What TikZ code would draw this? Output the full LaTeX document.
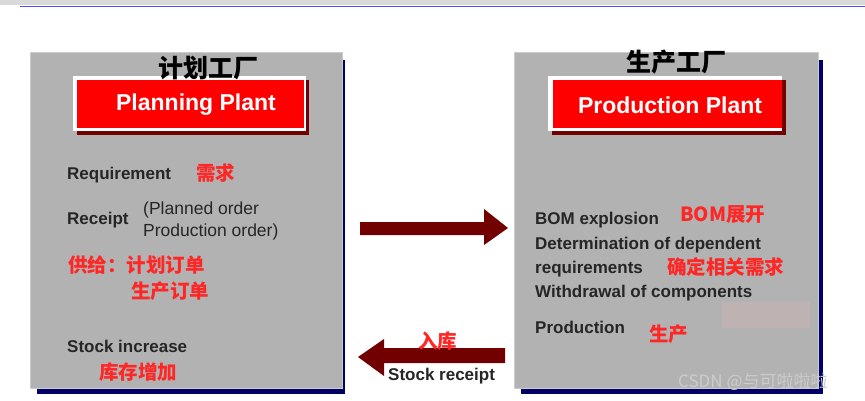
\documentclass[tikz,border=0pt]{standalone}
\usepackage{fontspec}
\setmainfont{Liberation Sans}
\newfontfamily\cjk{Noto Sans CJK SC}
\begin{document}
\begin{tikzpicture}[x=1pt,y=-1pt,
  panel/.style={fill=black!30,draw=black!20},
  btn/.style={fill=red,draw=none},
  blk/.style={anchor=west,font=\bfseries\fontsize{17}{18}\selectfont,text=black!85,inner sep=0},
  nrm/.style={anchor=west,font=\fontsize{17.5}{18}\selectfont,text=black!85,inner sep=0},
  rtx/.style={anchor=west,font=\cjk\bfseries\fontsize{19.5}{20}\selectfont,text=red!85!white,inner sep=0},
  ttl/.style={font=\cjk\bfseries\fontsize{25}{26}\selectfont,inner sep=0},
  btxt/.style={font=\bfseries\fontsize{23}{24}\selectfont,text=white,inner sep=0},
  arr/.style={fill=red!45!black,draw=none}]
\useasboundingbox (0,0) rectangle (865,401);
\fill[white] (0,0) rectangle (865,401);
\fill[black!15] (0,0) rectangle (865,5);
\draw[blue!70,line width=1pt] (20,6.5) -- (865,6.5);
% left panel
\fill[blue!40!black] (37,389) rectangle (345,394);
\fill[blue!40!black] (341,60) rectangle (345,394);
\node[panel,minimum width=312,minimum height=336,anchor=north west] (lp) at (30,52) {};
\fill[red!45!black] (77,80) rectangle (309,135);
\fill[white] (73,76) rectangle (306,131);
\node[btn,minimum width=227,minimum height=48,anchor=north west] (lb) at (77,80) {};
\node[btxt] (lbt) at (196,105) {Planning Plant};
\node[ttl] (lt) at (208,68) {计划工厂};
\node[blk] (l1) at (67,175) {Requirement};
\node[rtx] (l1c) at (196,173) {需求};
\node[blk] (l2) at (67,220) {Receipt};
\node[nrm] (l2b) at (143,210) {(Planned order};
\node[nrm] (l2c) at (143,232) {Production order)};
\node[rtx] (l3) at (68,265) {供给：计划订单};
\node[rtx] (l4) at (131,291) {生产订单};
\node[blk] (l5) at (67,346) {Stock increase};
\node[rtx] (l6) at (99,372) {库存增加};
% right panel
\fill[blue!40!black] (521,389) rectangle (823,394);
\fill[blue!40!black] (819,60) rectangle (823,394);
\node[panel,minimum width=304,minimum height=336,anchor=north west] (rp) at (514,52) {};
\fill[red!45!black] (552,80) rectangle (786,135);
\fill[white] (548,76) rectangle (782,131);
\node[btn,minimum width=229,minimum height=48,anchor=north west] (rb) at (553,80) {};
\node[btxt] (rbt) at (670,105) {Production Plant};
\node[ttl] (rt) at (676,62) {生产工厂};
\node[blk] (r1) at (535,220) {BOM explosion};
\node[rtx] (r1c) at (680,215) {BOM展开};
\node[blk] (r2) at (535,245) {Determination of dependent};
\node[blk] (r3) at (535,269) {requirements};
\node[rtx] (r3c) at (667,267) {确定相关需求};
\node[blk] (r4) at (535,293) {Withdrawal of components};
\node[blk] (r5) at (535,327) {Production};
\node[rtx] (r5c) at (649,334) {生产};
\fill[red!30!black!30!white,opacity=0.6] (722,302) rectangle (810,328);
% arrows
\fill[arr] (360,222) -- (484,222) -- (484,209) -- (508,228) -- (484,245) -- (484,235) -- (360,235) -- cycle;
\fill[arr] (505,348) -- (384,348) -- (384,339) -- (358,357) -- (384,376) -- (384,363) -- (505,363) -- cycle;
\node[rtx] (in) at (418,341) {入库};
\node[blk] (sr) at (388,376) {Stock receipt};
\node[anchor=west,inner sep=0,font=\cjk\fontsize{17}{18}\selectfont,text=white!80!black] (wm) at (678,382) {CSDN @与可啦啦啦};
\end{tikzpicture}
\end{document}
